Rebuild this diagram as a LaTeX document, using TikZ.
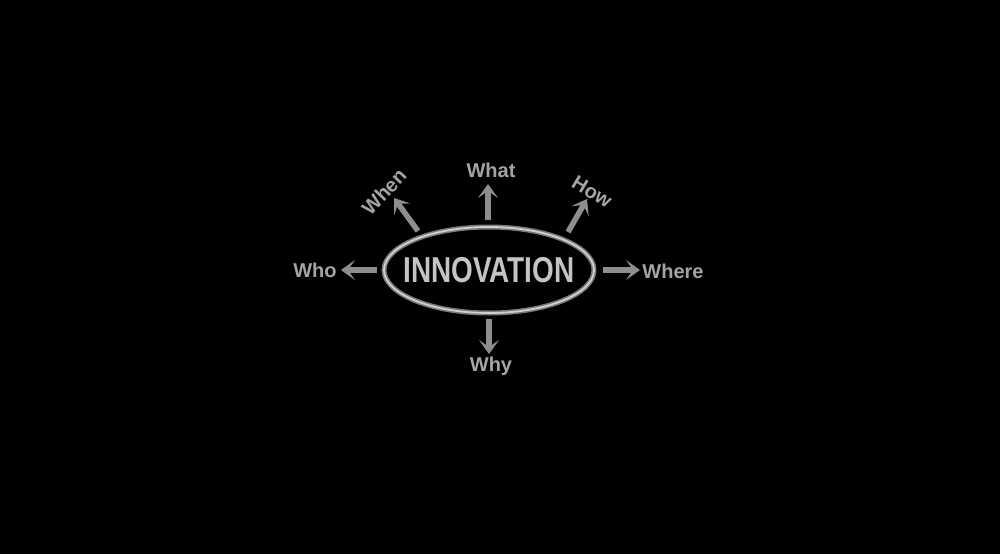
\documentclass[tikz,border=0pt]{standalone}
\usepackage{fontspec}
\setmainfont{Liberation Sans}
\usetikzlibrary{arrows.meta,shapes.geometric}
\definecolor{lbl}{HTML}{A4A4A4}
\definecolor{arrc}{HTML}{8E8E8E}
\definecolor{rimdark}{HTML}{7A7A7A}
\definecolor{rimlight}{HTML}{D0D0D0}
\definecolor{title}{HTML}{C4C4C4}
\tikzset{
  lab/.style={text=lbl, font=\bfseries\fontsize{20}{20}\selectfont, inner sep=0pt},
  arr/.style={draw=arrc, line width=5.5pt, -{Stealth[length=14pt,width=20pt,inset=7pt]}},
  hub/.style={ellipse, draw=rimdark, line width=1.6pt, double=rimlight, double distance=1.8pt,
    minimum width=210pt, minimum height=86pt, inner sep=0pt, text=title,
    font=\bfseries\fontsize{36}{36}\selectfont}
}
\begin{document}
\begin{tikzpicture}[x=1pt,y=-1pt]
\fill[black] (0,0) rectangle (1000,554);
\useasboundingbox (0,0) rectangle (1000,554);
\node[hub] (inno) at (489,270) {\makebox[0pt]{\scalebox{0.775}[1]{INNOVATION}}};
\node[lab] (what) at (491,170) {What};
\node[lab] (why) at (491,366) {Why};
\node[lab] (who) at (315,270) {Who};
\node[lab] (where) at (673,271) {Where};
\node[lab, rotate=47] (when) at (384,192) {When};
\node[lab, rotate=-31] (how) at (592,192) {How};
\coordinate (whatA) at (488,220);
\coordinate (whatB) at (488,184);
\coordinate (whyA) at (489,319);
\coordinate (whyB) at (489,354);
\coordinate (whoA) at (377,270);
\coordinate (whoB) at (341,270);
\coordinate (whereA) at (603,270);
\coordinate (whereB) at (640,270);
\coordinate (whenA) at (418,231);
\coordinate (whenB) at (394,198);
\coordinate (howA) at (568,232);
\coordinate (howB) at (587,199);
\draw[arr] (whatA) -- (whatB);
\draw[arr] (whyA) -- (whyB);
\draw[arr] (whoA) -- (whoB);
\draw[arr] (whereA) -- (whereB);
\draw[arr] (whenA) -- (whenB);
\draw[arr] (howA) -- (howB);
\end{tikzpicture}
\end{document}
